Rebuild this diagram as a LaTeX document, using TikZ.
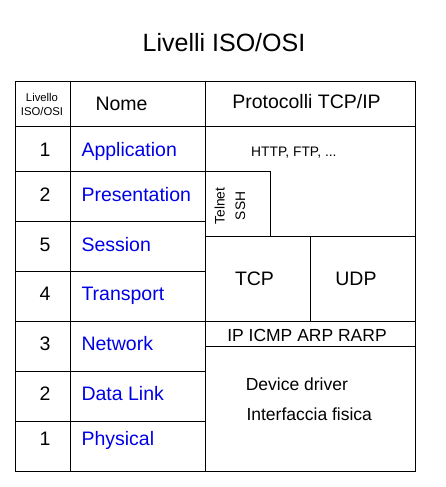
\documentclass[tikz,border=0pt]{standalone}
\usepackage{fontspec}
\setmainfont{Liberation Sans}
\usepackage{tikz}
\definecolor{osiblue}{RGB}{0,0,230}
\tikzset{
  big/.style={font=\fontsize{19.5}{22}\selectfont,inner sep=0},
  mid/.style={font=\fontsize{17.5}{20}\selectfont,inner sep=0},
  small/.style={font=\fontsize{13.8}{16}\selectfont,inner sep=0},
  tiny/.style={font=\fontsize{11.3}{13}\selectfont,inner sep=0},
  layer/.style={big,text=osiblue,anchor=base west},
}

\begin{document}
\begin{tikzpicture}[x=1pt,y=-1pt,line width=1pt]
   \useasboundingbox (0,0) rectangle (446,487);
   \node[font=\fontsize{25}{30}\selectfont,inner sep=0,anchor=base] (title) at (224,51.7) {Livelli ISO/OSI};
   % frame of the table
   \draw (15,81) rectangle (415,471);
   \draw (70,81) -- (70,471);
   \draw (205,81) -- (205,471);
   \draw (15,126) -- (415,126);
   \draw (15,321) -- (415,321);
   \foreach \y in {171,221,271,371,421} \draw (15,\y) -- (205,\y);
   \draw (205,171) -- (270,171) -- (270,236);
   \draw (205,236) -- (415,236);
   \draw (310,236) -- (310,321);
   \draw (205,346) -- (415,346);
   % header
   \node[tiny,anchor=base] (livA) at (42,101) {Livello};
   \node[tiny,anchor=base] (livB) at (42,115.7) {ISO/OSI};
   \node[big,anchor=base west] (nome) at (95,110.7) {Nome};
   \node[big,anchor=base] (proto) at (306.5,108.3) {Protocolli TCP/IP};
   % ISO/OSI layers
   \foreach \n/\name/\y [count=\i] in {1/Application/156,2/Presentation/201,5/Session/251,4/Transport/300.5,3/Network/350,2/Data Link/400,1/Physical/445.5}{
      \node[big,anchor=base] (num\i) at (45,\y) {\n};
      \node[layer] (lay\i) at (81,\y) {\name};
   }
   % TCP/IP protocols
   \node[small,anchor=base west] (http) at (250.7,156) {HTTP, FTP, ...};
   \node[small,rotate=90,anchor=base] (telnet) at (224.5,206) {Telnet};
   \node[small,rotate=90,anchor=base] (ssh) at (245,206) {SSH};
   \node[big,anchor=base] (tcp) at (254.5,285) {TCP};
   \node[big,anchor=base] (udp) at (356,285) {UDP};
   \node[mid,anchor=base] (ip) at (307,341) {IP ICMP ARP RARP};
   \node[mid,anchor=base west] (driver) at (245.3,390.7) {Device driver};
   \node[mid,anchor=base west] (phys) at (246,420.3) {Interfaccia fisica};
   %\node[below] at (0,0) {};
\end{tikzpicture}
\end{document}
